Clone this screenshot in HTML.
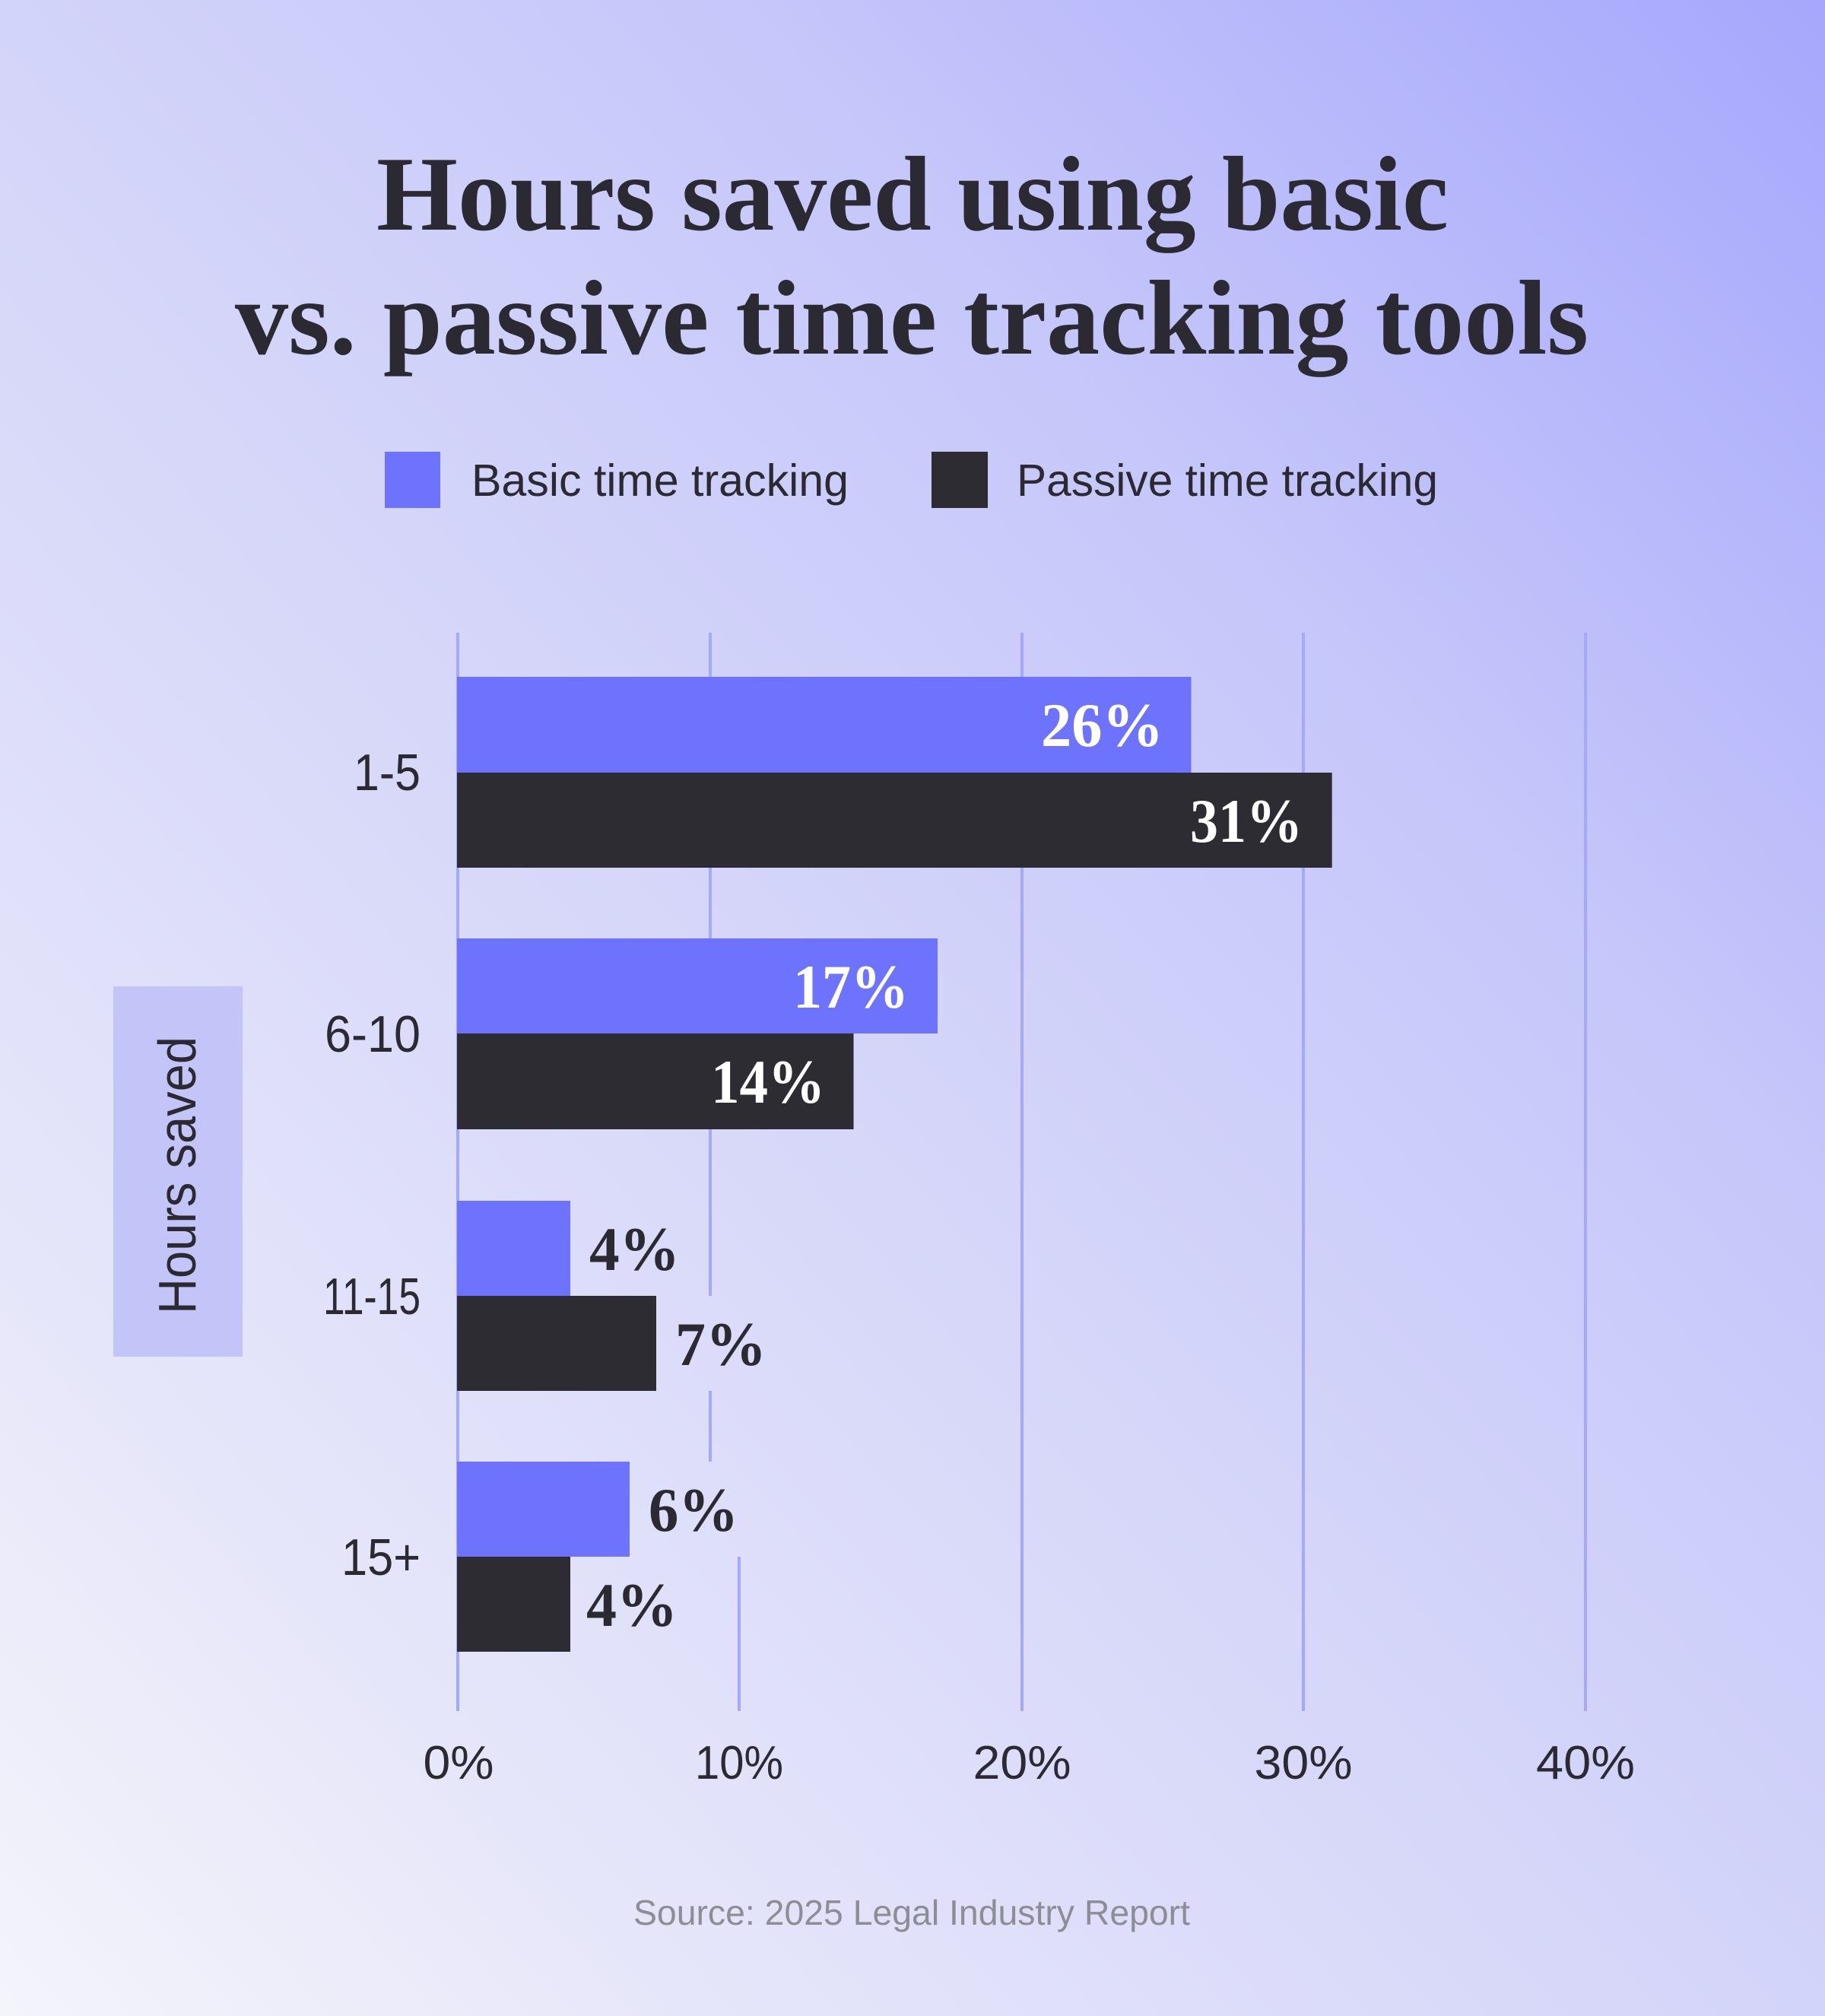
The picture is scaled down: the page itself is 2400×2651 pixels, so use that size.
<!DOCTYPE html>
<html>
<head>
<meta charset="utf-8">
<style>
  html, body { margin: 0; padding: 0; }
  body {
    width: 2400px; height: 2651px; overflow: hidden;
    background: linear-gradient(to bottom left, #a6a7fc 0%, #c6c7fa 30%, #d6d7f9 55%, #e4e4fa 78%, #f4f4fb 100%);
  }
  svg { display: block; }
  .serif { font-family: "Liberation Serif", serif; font-weight: bold; }
  .sans { font-family: "Liberation Sans", sans-serif; }
</style>
</head>
<body>
<svg width="2400" height="2651" viewBox="0 0 2400 2651" xmlns="http://www.w3.org/2000/svg">
  <!-- Title -->
  <text class="serif" x="1200" y="302" font-size="140" fill="#2b2a33" text-anchor="middle" textLength="1410" lengthAdjust="spacingAndGlyphs">Hours saved using basic</text>
  <text class="serif" x="1199" y="465" font-size="140" fill="#2b2a33" text-anchor="middle" textLength="1780" lengthAdjust="spacingAndGlyphs">vs. passive time tracking tools</text>

  <!-- Legend -->
  <rect x="506" y="594" width="73" height="74" fill="#6e73fd"/>
  <text class="sans" x="620" y="652" font-size="59" fill="#2b2a33" textLength="496" lengthAdjust="spacingAndGlyphs">Basic time tracking</text>
  <rect x="1225" y="594" width="74" height="74" fill="#2d2c33"/>
  <text class="sans" x="1337" y="652" font-size="59" fill="#2b2a33" textLength="554" lengthAdjust="spacingAndGlyphs">Passive time tracking</text>

  <!-- Grid lines -->
  <g stroke="#a6a8fa" stroke-width="4">
    <line x1="602" y1="832" x2="602" y2="2250"/>
    <line x1="934" y1="832" x2="934" y2="1704"/>
    <line x1="934" y1="1829" x2="934" y2="1922"/>
    <line x1="972" y1="2047" x2="972" y2="2250"/>
    <line x1="1344" y1="832" x2="1344" y2="2250"/>
    <line x1="1714" y1="832" x2="1714" y2="2250"/>
    <line x1="2085" y1="832" x2="2085" y2="2250"/>
  </g>

  <!-- Y axis label box -->
  <rect x="149" y="1297" width="170" height="487" fill="#c3c4f7"/>
  <text class="sans" font-size="70" fill="#2b2a33" text-anchor="middle" transform="translate(257,1545.5) rotate(-90)" textLength="365" lengthAdjust="spacingAndGlyphs">Hours saved</text>

  <!-- Category labels -->
  <g class="sans" font-size="68" fill="#2b2a33" text-anchor="end">
    <text x="553" y="1039" textLength="88" lengthAdjust="spacingAndGlyphs">1-5</text>
    <text x="553" y="1383" textLength="126" lengthAdjust="spacingAndGlyphs">6-10</text>
    <text x="553" y="1728" textLength="128" lengthAdjust="spacingAndGlyphs">11-15</text>
    <text x="553" y="2071" textLength="104" lengthAdjust="spacingAndGlyphs">15+</text>
  </g>

  <!-- Bars: group 1 (1-5) -->
  <rect x="601" y="890" width="965.5" height="126" fill="#6e73fd"/>
  <rect x="601" y="1016" width="1150.7" height="125" fill="#2d2c33"/>
  <!-- group 2 (6-10) -->
  <rect x="601" y="1234" width="632" height="125" fill="#6e73fd"/>
  <rect x="601" y="1359" width="521.5" height="126" fill="#2d2c33"/>
  <!-- group 3 (11-15) -->
  <rect x="601" y="1579" width="149" height="125" fill="#6e73fd"/>
  <rect x="601" y="1704" width="262" height="125" fill="#2d2c33"/>
  <!-- group 4 (15+) -->
  <rect x="601" y="1922" width="227" height="125" fill="#6e73fd"/>
  <rect x="601" y="2047" width="149" height="125" fill="#2d2c33"/>

  <!-- Bar value labels -->
  <g class="serif" font-size="82">
    <text x="1530" y="981" fill="#ffffff" text-anchor="end" textLength="161" lengthAdjust="spacingAndGlyphs">26%</text>
    <text x="1713" y="1107" fill="#ffffff" text-anchor="end" textLength="148" lengthAdjust="spacingAndGlyphs">31%</text>
    <text x="1195" y="1325" fill="#ffffff" text-anchor="end" textLength="152" lengthAdjust="spacingAndGlyphs">17%</text>
    <text x="1085" y="1450" fill="#ffffff" text-anchor="end" textLength="150" lengthAdjust="spacingAndGlyphs">14%</text>
    <text x="775" y="1670" fill="#2b2a33" textLength="119" lengthAdjust="spacingAndGlyphs">4%</text>
    <text x="888" y="1795" fill="#2b2a33" textLength="120" lengthAdjust="spacingAndGlyphs">7%</text>
    <text x="853" y="2013" fill="#2b2a33" textLength="118" lengthAdjust="spacingAndGlyphs">6%</text>
    <text x="771" y="2138" fill="#2b2a33" textLength="120" lengthAdjust="spacingAndGlyphs">4%</text>
  </g>

  <!-- X tick labels -->
  <g class="sans" font-size="62" fill="#2b2a33" text-anchor="middle">
    <text x="603" y="2339" textLength="93" lengthAdjust="spacingAndGlyphs">0%</text>
    <text x="972" y="2339" textLength="116" lengthAdjust="spacingAndGlyphs">10%</text>
    <text x="1344" y="2339" textLength="129" lengthAdjust="spacingAndGlyphs">20%</text>
    <text x="1714" y="2339" textLength="129" lengthAdjust="spacingAndGlyphs">30%</text>
    <text x="2085" y="2339" textLength="130" lengthAdjust="spacingAndGlyphs">40%</text>
  </g>

  <!-- Source -->
  <text class="sans" x="1199" y="2531" font-size="46" fill="#8d8d96" text-anchor="middle" textLength="732" lengthAdjust="spacingAndGlyphs">Source: 2025 Legal Industry Report</text>
</svg>
</body>
</html>
